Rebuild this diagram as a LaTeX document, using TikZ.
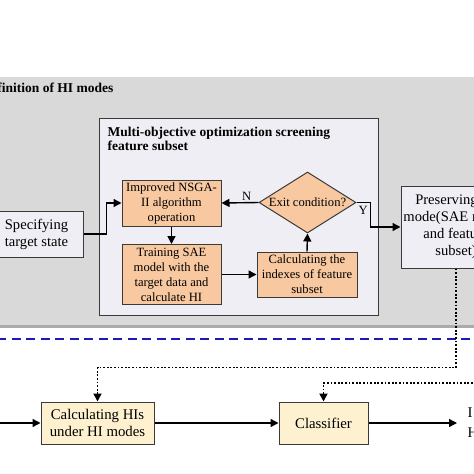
\documentclass[tikz,border=0pt]{standalone}
\usepackage{fontspec}
\setmainfont{Liberation Serif}
\usetikzlibrary{arrows.meta,shapes.geometric}
\definecolor{panelgray}{HTML}{D9D9D9}
\definecolor{panelshadow}{HTML}{ABABAB}
\definecolor{lavender}{HTML}{EFEEF4}
\definecolor{peach}{HTML}{F8C9A0}
\definecolor{cream}{HTML}{FDF1CF}
\definecolor{dashblue}{HTML}{1C1CB4}
\definecolor{edge}{HTML}{3A3A3A}
\tikzset{
  arr/.style={line width=1.4pt, -{Triangle[length=8pt,width=8pt]}},
  dotline/.style={line width=1.8pt, dash pattern=on 1.8pt off 1.8pt},
  orangebox/.style={draw=edge, line width=1pt, fill=peach, inner sep=0pt, align=center,
     font=\fontsize{12.6}{15}\selectfont},
  lightbox/.style={draw=edge, line width=1pt, fill=lavender, inner sep=0pt, align=center,
     font=\fontsize{14.6}{17}\selectfont},
  creambox/.style={draw=edge, line width=1pt, fill=cream, inner sep=0pt, align=center,
     font=\fontsize{14.8}{17}\selectfont},
  boldtitle/.style={inner sep=0pt, align=left, font=\fontsize{13.5}{14.5}\selectfont\bfseries},
  smalllabel/.style={inner sep=1pt, font=\fontsize{12.6}{15}\selectfont},
}
\begin{document}
\begin{tikzpicture}[x=1pt,y=-1pt]
\useasboundingbox (0,0) rectangle (474,474);
\clip (0,0) rectangle (474,474);
\fill[white] (0,0) rectangle (474,474);
% grey panel with shadow
\fill[panelshadow] (-20,80) rectangle (500,328);
\node[fill=panelgray, inner sep=0pt, minimum width=520pt, minimum height=248pt] (panel) at (240,201) {};
\node[boldtitle, anchor=base west] (paneltitle) at (-18.5,92) {Definition of HI modes};
% inner box
\node[draw=edge, line width=1pt, fill=lavender, inner sep=0pt, minimum width=279pt, minimum height=197pt] (inner) at (238.5,216.5) {};
\node[boldtitle, anchor=north west] (innertitle) at (107.5,126.5) {Multi-objective optimization screening\\feature subset};
% orange nodes
\node[orangebox, minimum width=99pt, minimum height=46pt] (nsga) at (171.5,203) {Improved NSGA-\\II algorithm\\operation};
\node[orangebox, minimum width=99pt, minimum height=60pt] (train) at (171.5,274.5) {Training SAE\\model with the\\target data and\\calculate HI};
\node[orangebox, minimum width=100pt, minimum height=45pt] (idx) at (307,274.5) {Calculating the\\indexes of feature\\subset};
\node[orangebox, diamond, aspect=1.6, minimum width=97pt, minimum height=61pt] (exit) at (307.5,202.5) {Exit condition?};
% light boxes
\node[lightbox, minimum width=93pt, minimum height=46pt] (spec) at (36.5,234) {Specifying\\target state};
\node[lightbox, minimum width=110pt, minimum height=82pt] (pres) at (456,227) {Preserving HI\\mode(SAE model\\and feature\\subset)};
% bottom boxes
\node[creambox, minimum width=113pt, minimum height=42pt] (calchi) at (97.5,423) {Calculating HIs\\under HI modes};
\node[creambox, minimum width=89pt, minimum height=42pt] (clf) at (323.5,423) {Classifier};
\node[anchor=west, inner sep=0pt, align=left, font=\fontsize{14.8}{20}\selectfont] (outtext) at (467.5,423) {I\\H};
% blue dashed separator
\draw[dashblue, line width=2pt, dash pattern=on 9pt off 5.5pt] (-3,339) -- (480,339);
% connectors upper
\draw[arr] (spec.east) -- ++(23,0) |- (nsga.west);
\draw[arr] (nsga.south) -- (train.north);
\draw[arr] (train.east) -- (idx.west);
\draw[arr] (idx.north) -- (exit.south);
\draw[arr] (exit.west) -- node[smalllabel, above, pos=0.32] {N} (nsga.east);
\draw[arr] (exit.east) -- ++(14,0) node[smalllabel, below left, inner sep=2pt, yshift=-1pt] {Y} |- (pres.west);
% dotted feeds
\draw[dotline, -{Triangle[length=8pt,width=8pt]}] (pres.south) -- ++(0,99) -| (calchi.north);
\coordinate (rightin) at (480,383);
\draw[dotline, -{Triangle[length=8pt,width=8pt]}] (rightin) -| (clf.north);
% lower connectors
\coordinate (leftin) at (-5,423);
\coordinate (outend) at (457,423);
\draw[arr] (leftin) -- (calchi.west);
\draw[arr] (calchi.east) -- (clf.west);
\draw[arr] (clf.east) -- (outend);
\end{tikzpicture}
\end{document}
